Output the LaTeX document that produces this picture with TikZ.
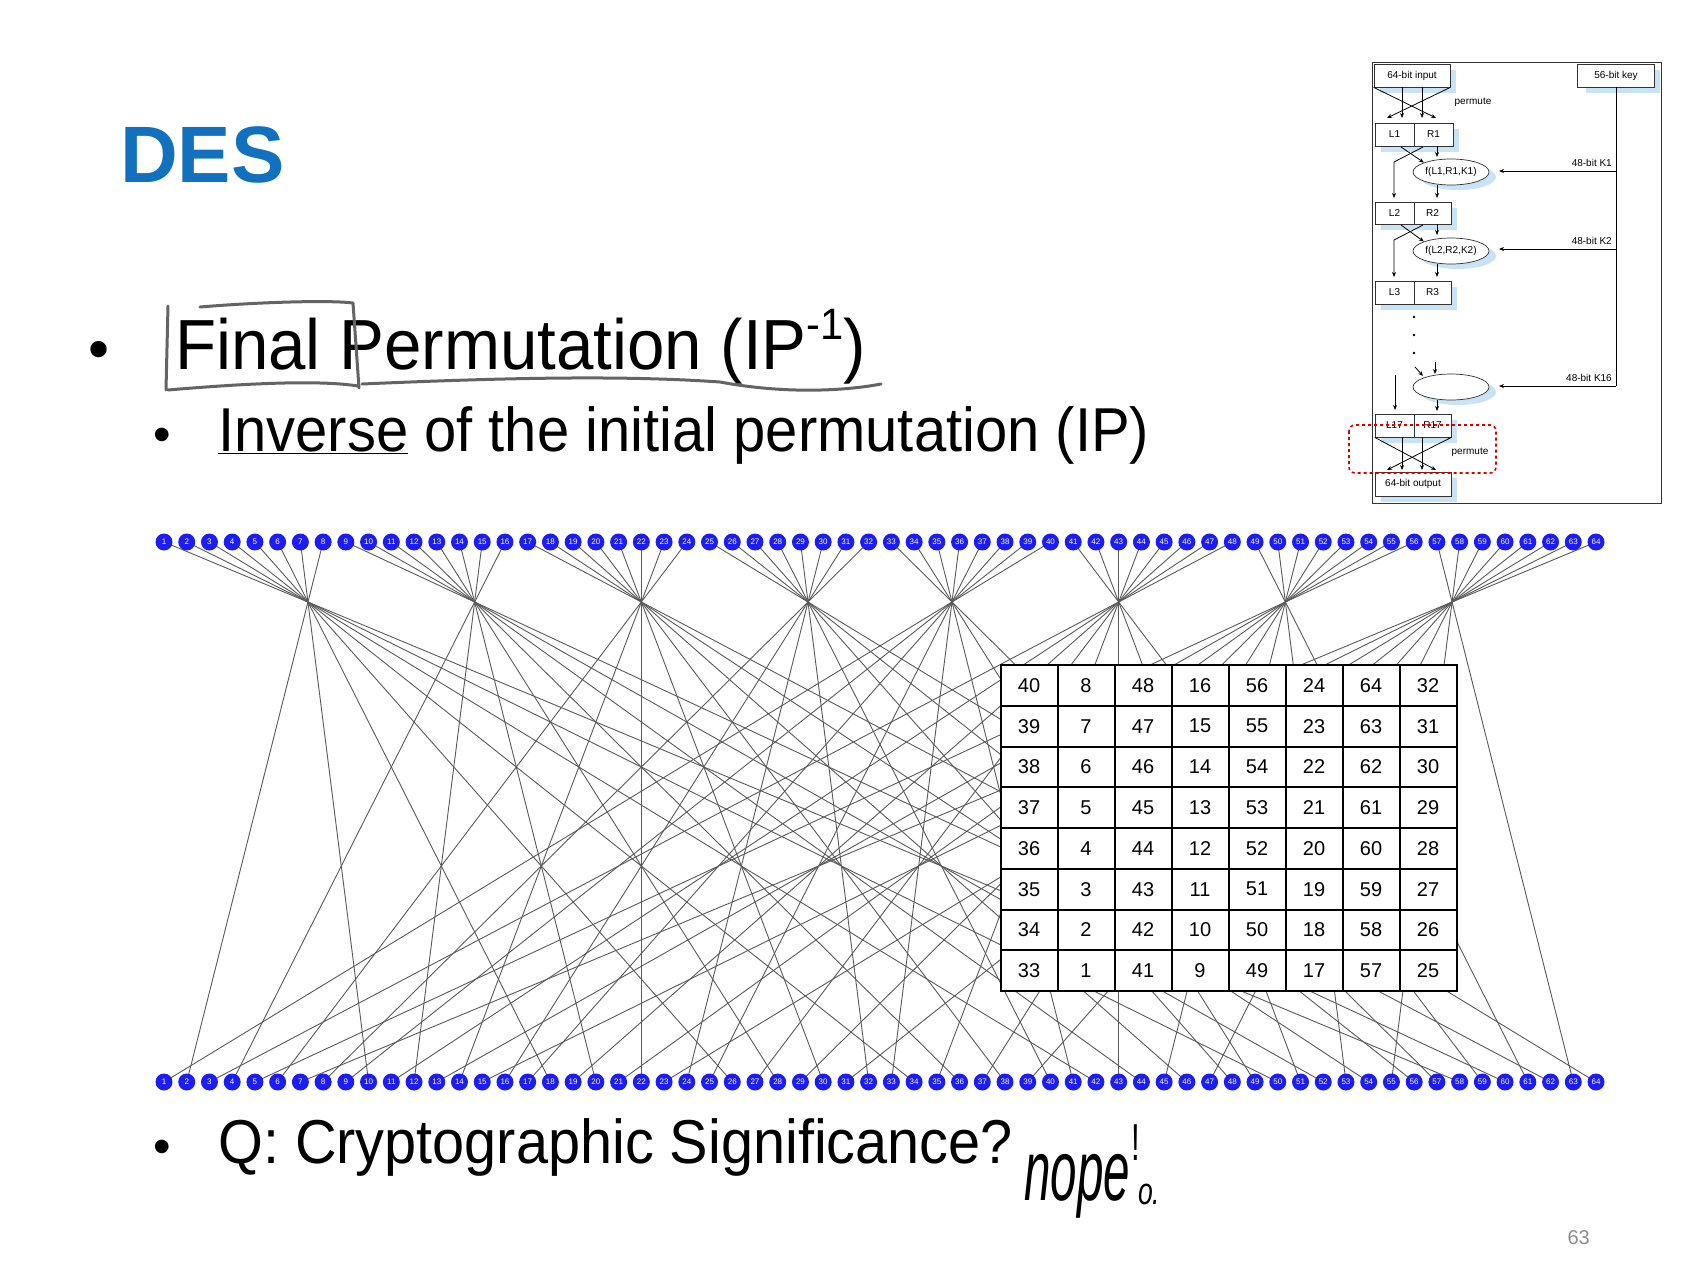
\documentclass[tikz,border=0pt]{standalone}
\usepackage{fontspec}
\setmainfont{Liberation Sans}
\usetikzlibrary{backgrounds,shapes.geometric,arrows.meta}
\definecolor{desblue}{RGB}{18,113,190}
\definecolor{nodeblue}{RGB}{28,28,245}
\definecolor{shadow}{RGB}{200,226,246}
\definecolor{pen}{RGB}{100,100,100}
\tikzset{
  pnode/.style={circle,fill=nodeblue,inner sep=0pt,minimum size=17pt,text=white,font=\fontsize{8}{8}\selectfont},
  net/.style={draw=black!65,line width=0.9pt},
  cell/.style={draw=black,line width=2pt,fill=white,minimum width=57pt,minimum height=40.75pt,inner sep=0pt,font=\fontsize{20}{20}\selectfont},
  sbox/.style={draw=black!80,line width=0.7pt,fill=white,inner sep=0pt,font=\fontsize{10}{10}\selectfont},
  sml/.style={font=\fontsize{10}{10}\selectfont,inner sep=0pt},
  arr/.style={-{Stealth[length=5pt,width=4pt]},line width=0.8pt},
}
\begin{document}
\begin{tikzpicture}[x=1pt,y=-1pt]
\useasboundingbox (0,0) rectangle (1704,1274);
% title
\node[anchor=base west,inner sep=0pt,text=desblue,font=\bfseries\fontsize{80}{80}\selectfont] (title) at (120,182) {DES};
% bullets
\node[anchor=base west,inner sep=0pt,font=\fontsize{60}{60}\selectfont] (b1) at (88,369) {•};
\node[anchor=base west,inner sep=0pt,font=\fontsize{71}{71}\selectfont,xscale=0.947] (t1) at (175,369) {Final Permutation (IP\raisebox{0.42em}{\fontsize{44}{44}\selectfont -1})};
\node[anchor=base west,inner sep=0pt,font=\fontsize{50}{50}\selectfont] (b2) at (153,451) {•};
\node[anchor=base west,inner sep=0pt,font=\fontsize{62}{62}\selectfont,xscale=0.935] (t2) at (218,451) {\underline{Inverse} of the initial permutation (IP)};
\node[anchor=base west,inner sep=0pt,font=\fontsize{50}{50}\selectfont] (b3) at (153,1163) {•};
\node[anchor=base west,inner sep=0pt,font=\fontsize{62}{62}\selectfont,xscale=0.93] (t3) at (218,1163) {Q: Cryptographic Significance?};
\node[anchor=base east,inner sep=0pt,text=black!45,font=\fontsize{20}{20}\selectfont] (pg) at (1590,1244) {63};
% handwriting
\draw[pen,line width=3pt,line cap=round,line join=round] (168,306) -- (166,390) (168,390) .. controls (250,383) and (320,380) .. (358,386) (200,307) .. controls (260,302) and (330,300) .. (353,303) -- (359,388);
\draw[pen,line width=3pt,line cap=round] (362,384) .. controls (500,378) and (620,375) .. (720,382) .. controls (790,395) and (850,390) .. (881,384);
\node[anchor=base west,inner sep=0pt,font=\fontsize{66}{66}\itshape\selectfont,xscale=0.72,yscale=1.3] (nope) at (1024,1200) {nope};
\node[anchor=base west,inner sep=0pt,font=\fontsize{52}{52}\selectfont,xscale=0.6] (bang) at (1131,1160) {!};
\node[anchor=base west,inner sep=0pt,font=\fontsize{38}{38}\itshape\selectfont,xscale=0.7] (oo) at (1138,1204) {o.};
% permutation network
\foreach \k in {1,...,64} {
  \node[pnode] (t\k) at ({164+(\k-1)*22.73},542) {\k};
  \node[pnode] (b\k) at ({164+(\k-1)*22.73},1082) {\k};
}
\begin{scope}[on background layer]
\foreach \j [count=\i] in {40,8,48,16,56,24,64,32,39,7,47,15,55,23,63,31,38,6,46,14,54,22,62,30,37,5,45,13,53,21,61,29,36,4,44,12,52,20,60,28,35,3,43,11,51,19,59,27,34,2,42,10,50,18,58,26,33,1,41,9,49,17,57,25}
  \draw[net] (t\j.center) -- (b\i.center);
\end{scope}
% table
\foreach \r in {0,...,7} \foreach \c in {1,...,8} {
  \pgfmathtruncatemacro\v{mod(\c,2)==1 ? 40+4*(\c-1)-\r : 4*\c-\r}
  \node[cell] (c\r-\c) at ({1000.5+57*(\c-0.5)},{665+40.75*(\r+0.5)}) {\v};
}
% DES inset
\draw[line width=1pt,black!80] (1372,62) rectangle (1661,503);
\foreach \a/\b/\cc/\d in {1380/70/1456/93, 1586/70/1660/93, 1381/129/1459/152, 1381/208/1457/230, 1381/287/1457/310, 1381/420/1457/443, 1381/478/1457/502}
  \fill[shadow] (\a,\b) rectangle (\cc,\d);
\foreach \yy in {177,256,392} \fill[shadow] (1458,\yy) ellipse (38 and 13);
\node[sbox,minimum width=76pt,minimum height=23pt] (in) at (1412,75.5) {64-bit input};
\node[sbox,minimum width=77pt,minimum height=23pt] (key) at (1616,75.5) {56-bit key};
\node[sbox,minimum width=39pt,minimum height=23pt] (L1) at (1394.5,134.5) {L1};
\node[sbox,minimum width=39pt,minimum height=23pt] (R1) at (1433.5,134.5) {R1};
\node[draw=black!80,line width=0.7pt,fill=white,ellipse,minimum width=76pt,minimum height=26pt,inner sep=0pt,font=\fontsize{10}{10}\selectfont] (f1) at (1451,172) {f(L1,R1,K1)};
\node[sbox,minimum width=39pt,minimum height=22pt] (L2) at (1394.5,213) {L2};
\node[sbox,minimum width=37pt,minimum height=22pt] (R2) at (1432.5,213) {R2};
\node[draw=black!80,line width=0.7pt,fill=white,ellipse,minimum width=76pt,minimum height=26pt,inner sep=0pt,font=\fontsize{10}{10}\selectfont] (f2) at (1451,251) {f(L2,R2,K2)};
\node[sbox,minimum width=39pt,minimum height=23pt] (L3) at (1394.5,292.5) {L3};
\node[sbox,minimum width=37pt,minimum height=23pt] (R3) at (1432.5,292.5) {R3};
\node[draw=black!80,line width=0.7pt,fill=white,ellipse,minimum width=76pt,minimum height=26pt,inner sep=0pt] (f3) at (1451,387) {};
\node[sbox,minimum width=39pt,minimum height=23pt] (L17) at (1394.5,425.5) {L17};
\node[sbox,minimum width=37pt,minimum height=23pt] (R17) at (1432.5,425.5) {R17};
\node[sbox,minimum width=76pt,minimum height=24pt] (out) at (1413,484) {64-bit output};
\node[sml] (p1) at (1473,102) {permute};
\node[sml] (p2) at (1470,452) {permute};
% initial permute arrows
\draw[arr] (in.south west) -- (1436,118);
\draw[arr] (in.south east) -- (1387,118);
\draw[arr] (1402,87) -- (1402,118);
\draw[arr] (1422,87) -- (1422,118);
% round 1
\draw[arr] (1437,146) -- (1437,157);
\draw[arr] (1401,147) -- (f1.north west);
\draw[arr] (1423,147) -- (1394,162) -- (1394,198);
\draw[arr] (1437,185) -- (1437,198);
% round 2
\draw[arr] (1437,224) -- (1437,235);
\draw[arr] (1401,225) -- (f2.north west);
\draw[arr] (1423,225) -- (1394,240) -- (1394,277);
\draw[arr] (1437,264) -- (1437,277);
% dots
\foreach \yy in {317,335,353} \fill (1414,\yy) circle (1.3);
\draw[arr] (1415,367) -- (1423,376);
\draw[arr] (1435,362) -- (1435,374);
\draw[arr] (1395,375) -- (1395,410);
\draw[arr] (1437,400) -- (1437,411);
% final permute arrows
\draw[arr] (L17.south west) -- (1436,470);
\draw[arr] (R17.south east) -- (1387,470);
\draw[arr] (1402,437) -- (1402,470);
\draw[arr] (1422,437) -- (1422,470);
% key lines
\draw[line width=0.8pt] (key.south) -- (1616,386);
\draw[arr] (1616,171) -- (1499,171);
\draw[arr] (1616,249) -- (1499,249);
\draw[arr] (1616,386) -- (1499,386);
\node[sml,anchor=south east] (k1) at (1612,167) {48-bit K1};
\node[sml,anchor=south east] (k2) at (1612,245) {48-bit K2};
\node[sml,anchor=south east] (k16) at (1612,382) {48-bit K16};
\draw[red!85!black,dashed,line width=1.6pt,rounded corners=6pt] (1349,425) rectangle (1496,473);
\end{tikzpicture}
\end{document}
